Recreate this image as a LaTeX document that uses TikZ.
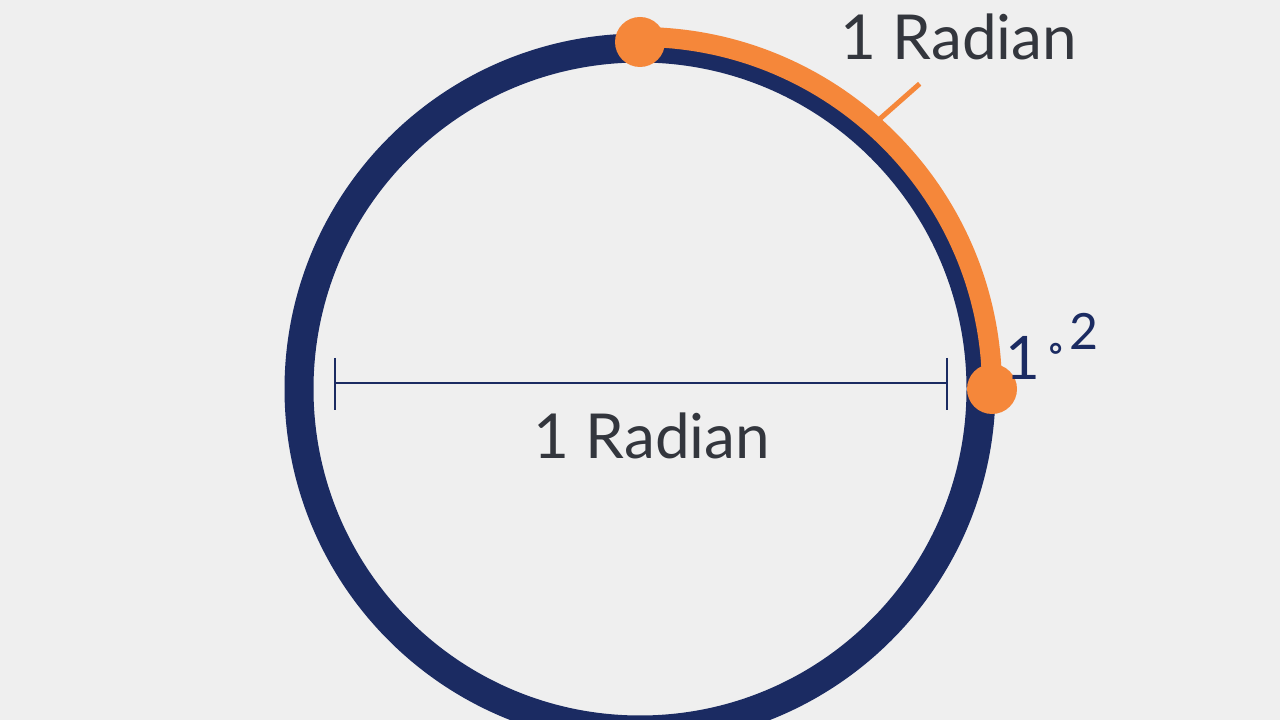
\documentclass[tikz,border=0pt]{standalone}
\usepackage{fontspec}
\setmainfont{Lato}
\newfontfamily\dejavu{DejaVu Sans}
\definecolor{bg}{HTML}{EFEFEF}
\definecolor{navy}{HTML}{1B2B62}
\definecolor{orng}{HTML}{F5873A}
\definecolor{txt}{HTML}{33363D}
\tikzset{
  dotnode/.style={circle, fill=orng, inner sep=0pt, minimum size=50pt},
  biglabel/.style={text=txt, font=\fontsize{62}{62}\selectfont, inner sep=0pt},
}
\begin{document}
\begin{tikzpicture}[x=1pt,y=1pt]
\fill[bg] (0,0) rectangle (1280,720);
\useasboundingbox (0,0) rectangle (1280,720);
\clip (0,0) rectangle (1280,720);
\coordinate (O) at (640,331);
% main circle
\draw[navy, line width=29pt] (O) circle (341);
% orange arc
\draw[orng, line width=20pt] ([shift={(90:352)}]O) arc (90:0:352);
\node[dotnode] (A) at ([shift={(90:347)}]O) {};
\node[dotnode] (B) at ([shift={(0:352)}]O) {};
% tick to label
\coordinate (t1) at ([shift={(48.4:361)}]O);
\coordinate (t2) at ([shift={(47.5:414)}]O);
\draw[orng, line width=5pt] (t1) -- (t2);
% diameter-ish line
\coordinate (L) at (335,337);
\coordinate (R) at (947,337);
\draw[navy, line width=2pt] (L) -- (R);
\draw[navy, line width=2.5pt] ([yshift=25pt]L) -- ([yshift=-27pt]L);
\draw[navy, line width=2.5pt] ([yshift=25pt]R) -- ([yshift=-27pt]R);
% labels
\node[biglabel, anchor=base] (top) at (959,660) {1 Radian};
\node[biglabel, anchor=base] (mid) at (652,261) {1 Radian};
\node[text=navy, inner sep=0pt, anchor=base west, font=\fontsize{60}{60}\selectfont] (one) at (1005,340) {1};
\node[text=navy, inner sep=0pt, font=\dejavu\bfseries\fontsize{34}{34}\selectfont] (ring) at (1056,369) {∘};
\node[text=navy, inner sep=0pt, anchor=base west, font=\fontsize{50}{50}\selectfont] (two) at (1069,370) {2};
\end{tikzpicture}
\end{document}
